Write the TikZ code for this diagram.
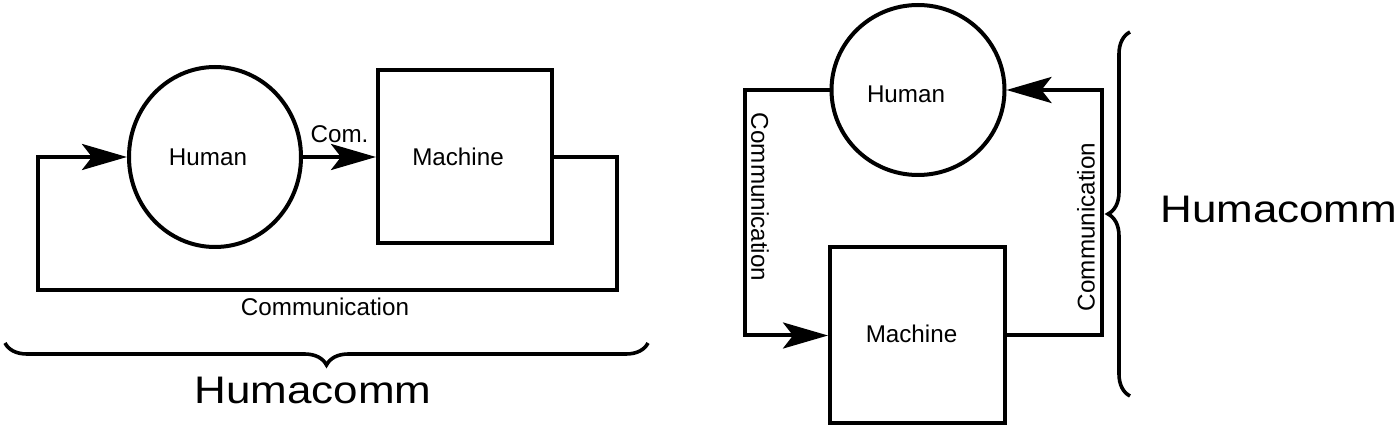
\documentclass[tikz,border=0pt]{standalone}
\usepackage{fontspec}
\setmainfont{Liberation Sans}
\usetikzlibrary{arrows.meta,shapes.geometric,decorations.pathreplacing}
\begin{document}
\begin{tikzpicture}[x=0.5pt,y=-0.5pt,
  line width=2pt,
  conn/.style={line width=2pt},
  arr/.style={conn,-{Stealth[length=22.5pt,width=13pt,inset=5pt]}},
  circ/.style={draw,ellipse,line width=2pt,inner sep=0pt},
  box/.style={draw,rectangle,line width=2pt,inner sep=0pt},
  lbl/.style={font=\fontsize{12.1}{14}\selectfont,inner sep=0pt},
  big/.style={font=\fontsize{19.2}{22}\selectfont,inner sep=0pt,xscale=1.145},
  brc/.style={decorate,decoration={brace,amplitude=11pt},line width=1.8pt}
]
\useasboundingbox (0,0) rectangle (1399,427);
% ---------------- left diagram
\node[circ,minimum width=86pt,minimum height=90pt,
  label={[lbl,xshift=-3.5pt]center:Human}] (H1) at (215,157) {};
\node[box,minimum width=87pt,minimum height=86.5pt,
  label={[lbl,xshift=-3.5pt]center:Machine}] (M1) at (465,157) {};
\coordinate (a1) at (617,157);
\coordinate (a2) at (617,290);
\coordinate (a3) at (38,290);
\coordinate (a4) at (38,157);
\draw[arr] (H1.east) -- (M1.west) node[lbl,midway,above=6pt] (com) {Com.};
\draw[arr,line join=miter] (M1.east) -- (a1) -- (a2) -- (a3) -- (a4) -- (H1.west);
\node[lbl] (c1) at (325,307) {Communication};
\coordinate (b1) at (5,343);
\coordinate (b2) at (648,343);
\draw[brc] (b2) -- (b1);
\node[big] (hc1) at (313,390) {Humacomm};
% ---------------- right diagram
\node[circ,minimum width=86.5pt,minimum height=85pt,
  label={[lbl,xshift=-6pt,yshift=-2pt]center:Human}] (H2) at (918,90) {};
\node[box,minimum width=87.5pt,minimum height=88pt,
  label={[lbl,xshift=-3pt,yshift=1pt]center:Machine}] (M2) at (917.5,335.5) {};
\coordinate (c1a) at (745,90);
\coordinate (c1b) at (745,335.5);
\coordinate (c2a) at (1102,335.5);
\coordinate (c2b) at (1102,90);
\draw[arr,line join=miter] (H2.west) -- (c1a) -- (c1b) -- (M2.west);
\draw[arr,line join=miter] (M2.east) -- (c2a) -- (c2b) -- (H2.east);
\node[lbl,rotate=-90] (cl) at (760,197) {Communication};
\node[lbl,rotate=90] (cr) at (1086,227) {Communication};
\coordinate (d1) at (1130,32);
\coordinate (d2) at (1130,396);
\draw[brc] (d2) -- (d1);
\node[big,anchor=west] (hc2) at (1158,209) {Humacomm};
\end{tikzpicture}
\end{document}
